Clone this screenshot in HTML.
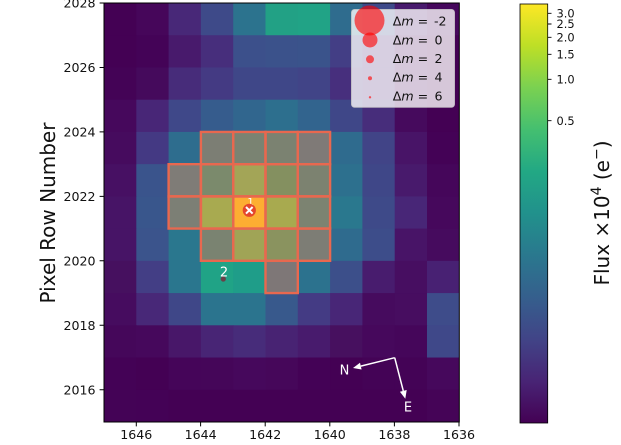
<!DOCTYPE html>
<html><head><meta charset="utf-8"><style>
html,body{margin:0;padding:0;background:#fff;}
svg{display:block;font-family:"DejaVu Sans","Liberation Sans",sans-serif;}
</style></head><body>
<svg width="621" height="445" viewBox="0 0 621 445" xmlns="http://www.w3.org/2000/svg">
<defs>
<linearGradient id="vir" x1="0" y1="1" x2="0" y2="0">
<stop offset="0" stop-color="#440154"/><stop offset="0.1" stop-color="#482475"/><stop offset="0.2" stop-color="#414487"/><stop offset="0.3" stop-color="#355f8d"/><stop offset="0.4" stop-color="#2a788e"/><stop offset="0.5" stop-color="#21918c"/><stop offset="0.6" stop-color="#22a884"/><stop offset="0.7" stop-color="#44bf70"/><stop offset="0.8" stop-color="#7ad151"/><stop offset="0.9" stop-color="#bddf26"/><stop offset="1" stop-color="#fde725"/>
</linearGradient>
<clipPath id="ax"><rect x="104" y="3" width="355.3" height="419"/></clipPath>
</defs>
<rect width="621" height="445" fill="#fff"/>
<g clip-path="url(#ax)">
<g transform="translate(104,3) scale(32.3,32.23)">
<!-- r0 -->
<rect x="0" y="0" width="1.02" height="1.02" fill="#440154"/><rect x="1" y="0" width="1.02" height="1.02" fill="#46065a"/><rect x="2" y="0" width="1.02" height="1.02" fill="#482878"/><rect x="3" y="0" width="1.02" height="1.02" fill="#3e4a89"/><rect x="4" y="0" width="1.02" height="1.02" fill="#2c738e"/><rect x="5" y="0" width="1.02" height="1.02" fill="#22a185"/><rect x="6" y="0" width="1.02" height="1.02" fill="#21a386"/><rect x="7" y="0" width="1.02" height="1.02" fill="#2f6c8e"/><rect x="8" y="0" width="1.02" height="1.02" fill="#3e4a89"/><rect x="9" y="0" width="1.02" height="1.02" fill="#481a6c"/><rect x="10" y="0" width="1.02" height="1.02" fill="#46085c"/>
<!-- r1 -->
<rect x="0" y="1" width="1.02" height="1.02" fill="#440154"/><rect x="1" y="1" width="1.02" height="1.02" fill="#440357"/><rect x="2" y="1" width="1.02" height="1.02" fill="#481a6c"/><rect x="3" y="1" width="1.02" height="1.02" fill="#472e7c"/><rect x="4" y="1" width="1.02" height="1.02" fill="#3c508b"/><rect x="5" y="1" width="1.02" height="1.02" fill="#3b528b"/><rect x="6" y="1" width="1.02" height="1.02" fill="#3a538b"/><rect x="7" y="1" width="1.02" height="1.02" fill="#433e85"/><rect x="8" y="1" width="1.02" height="1.02" fill="#482878"/><rect x="9" y="1" width="1.02" height="1.02" fill="#46085c"/><rect x="10" y="1" width="1.02" height="1.02" fill="#440154"/>
<!-- r2 -->
<rect x="0" y="2" width="1.02" height="1.02" fill="#440356"/><rect x="1" y="2" width="1.02" height="1.02" fill="#450a5c"/><rect x="2" y="2" width="1.02" height="1.02" fill="#472c7a"/><rect x="3" y="2" width="1.02" height="1.02" fill="#443a83"/><rect x="4" y="2" width="1.02" height="1.02" fill="#3f4788"/><rect x="5" y="2" width="1.02" height="1.02" fill="#3f4788"/><rect x="6" y="2" width="1.02" height="1.02" fill="#414487"/><rect x="7" y="2" width="1.02" height="1.02" fill="#472f7d"/><rect x="8" y="2" width="1.02" height="1.02" fill="#482475"/><rect x="9" y="2" width="1.02" height="1.02" fill="#46085c"/><rect x="10" y="2" width="1.02" height="1.02" fill="#440154"/>
<!-- r3 -->
<rect x="0" y="3" width="1.02" height="1.02" fill="#46085c"/><rect x="1" y="3" width="1.02" height="1.02" fill="#482677"/><rect x="2" y="3" width="1.02" height="1.02" fill="#3f4889"/><rect x="3" y="3" width="1.02" height="1.02" fill="#365c8d"/><rect x="4" y="3" width="1.02" height="1.02" fill="#31668e"/><rect x="5" y="3" width="1.02" height="1.02" fill="#2d6f8e"/><rect x="6" y="3" width="1.02" height="1.02" fill="#32648e"/><rect x="7" y="3" width="1.02" height="1.02" fill="#3f4788"/><rect x="8" y="3" width="1.02" height="1.02" fill="#472d7b"/><rect x="9" y="3" width="1.02" height="1.02" fill="#460a5d"/><rect x="10" y="3" width="1.02" height="1.02" fill="#440154"/>
<!-- r4 -->
<rect x="0" y="4" width="1.02" height="1.02" fill="#460b5e"/><rect x="1" y="4" width="1.02" height="1.02" fill="#443983"/><rect x="2" y="4" width="1.02" height="1.02" fill="#2e6d8e"/><rect x="3" y="4" width="1.02" height="1.02" fill="#7c7e74"/><rect x="4" y="4" width="1.02" height="1.02" fill="#7a8372"/><rect x="5" y="4" width="1.02" height="1.02" fill="#7b8271"/><rect x="6" y="4" width="1.02" height="1.02" fill="#7f7a77"/><rect x="7" y="4" width="1.02" height="1.02" fill="#2f6b8e"/><rect x="8" y="4" width="1.02" height="1.02" fill="#414487"/><rect x="9" y="4" width="1.02" height="1.02" fill="#481467"/><rect x="10" y="4" width="1.02" height="1.02" fill="#440256"/>
<!-- r5 -->
<rect x="0" y="5" width="1.02" height="1.02" fill="#471063"/><rect x="1" y="5" width="1.02" height="1.02" fill="#3a548c"/><rect x="2" y="5" width="1.02" height="1.02" fill="#7f7c77"/><rect x="3" y="5" width="1.02" height="1.02" fill="#7b8a6c"/><rect x="4" y="5" width="1.02" height="1.02" fill="#a3a557"/><rect x="5" y="5" width="1.02" height="1.02" fill="#849060"/><rect x="6" y="5" width="1.02" height="1.02" fill="#7c8270"/><rect x="7" y="5" width="1.02" height="1.02" fill="#2d708e"/><rect x="8" y="5" width="1.02" height="1.02" fill="#3f4788"/><rect x="9" y="5" width="1.02" height="1.02" fill="#481a6c"/><rect x="10" y="5" width="1.02" height="1.02" fill="#45065a"/>
<!-- r6 -->
<rect x="0" y="6" width="1.02" height="1.02" fill="#471466"/><rect x="1" y="6" width="1.02" height="1.02" fill="#39568c"/><rect x="2" y="6" width="1.02" height="1.02" fill="#7c7f75"/><rect x="3" y="6" width="1.02" height="1.02" fill="#a8aa50"/><rect x="4" y="6" width="1.02" height="1.02" fill="#fdae32"/><rect x="5" y="6" width="1.02" height="1.02" fill="#a8aa4f"/><rect x="6" y="6" width="1.02" height="1.02" fill="#7c8371"/><rect x="7" y="6" width="1.02" height="1.02" fill="#2a788e"/><rect x="8" y="6" width="1.02" height="1.02" fill="#3e4a89"/><rect x="9" y="6" width="1.02" height="1.02" fill="#482677"/><rect x="10" y="6" width="1.02" height="1.02" fill="#46085c"/>
<!-- r7 -->
<rect x="0" y="7" width="1.02" height="1.02" fill="#471466"/><rect x="1" y="7" width="1.02" height="1.02" fill="#3b548c"/><rect x="2" y="7" width="1.02" height="1.02" fill="#2a778e"/><rect x="3" y="7" width="1.02" height="1.02" fill="#7a8371"/><rect x="4" y="7" width="1.02" height="1.02" fill="#a0a456"/><rect x="5" y="7" width="1.02" height="1.02" fill="#8a935f"/><rect x="6" y="7" width="1.02" height="1.02" fill="#7d7d75"/><rect x="7" y="7" width="1.02" height="1.02" fill="#2f6b8e"/><rect x="8" y="7" width="1.02" height="1.02" fill="#3d4d8a"/><rect x="9" y="7" width="1.02" height="1.02" fill="#481467"/><rect x="10" y="7" width="1.02" height="1.02" fill="#460b5e"/>
<!-- r8 -->
<rect x="0" y="8" width="1.02" height="1.02" fill="#46105f"/><rect x="1" y="8" width="1.02" height="1.02" fill="#433e85"/><rect x="2" y="8" width="1.02" height="1.02" fill="#2a768e"/><rect x="3" y="8" width="1.02" height="1.02" fill="#20a386"/><rect x="4" y="8" width="1.02" height="1.02" fill="#1f9d89"/><rect x="5" y="8" width="1.02" height="1.02" fill="#7e7777"/><rect x="6" y="8" width="1.02" height="1.02" fill="#2c728e"/><rect x="7" y="8" width="1.02" height="1.02" fill="#3c4f8a"/><rect x="8" y="8" width="1.02" height="1.02" fill="#481c6e"/><rect x="9" y="8" width="1.02" height="1.02" fill="#470e61"/><rect x="10" y="8" width="1.02" height="1.02" fill="#482173"/>
<!-- r9 -->
<rect x="0" y="9" width="1.02" height="1.02" fill="#460c5f"/><rect x="1" y="9" width="1.02" height="1.02" fill="#482878"/><rect x="2" y="9" width="1.02" height="1.02" fill="#3f4788"/><rect x="3" y="9" width="1.02" height="1.02" fill="#2b748e"/><rect x="4" y="9" width="1.02" height="1.02" fill="#2b748e"/><rect x="5" y="9" width="1.02" height="1.02" fill="#38598c"/><rect x="6" y="9" width="1.02" height="1.02" fill="#443b84"/><rect x="7" y="9" width="1.02" height="1.02" fill="#482677"/><rect x="8" y="9" width="1.02" height="1.02" fill="#460b5e"/><rect x="9" y="9" width="1.02" height="1.02" fill="#470d60"/><rect x="10" y="9" width="1.02" height="1.02" fill="#3e4c8a"/>
<!-- r10 -->
<rect x="0" y="10" width="1.02" height="1.02" fill="#45075a"/><rect x="1" y="10" width="1.02" height="1.02" fill="#46085c"/><rect x="2" y="10" width="1.02" height="1.02" fill="#481769"/><rect x="3" y="10" width="1.02" height="1.02" fill="#482575"/><rect x="4" y="10" width="1.02" height="1.02" fill="#472c7a"/><rect x="5" y="10" width="1.02" height="1.02" fill="#482373"/><rect x="6" y="10" width="1.02" height="1.02" fill="#481b6d"/><rect x="7" y="10" width="1.02" height="1.02" fill="#47105f"/><rect x="8" y="10" width="1.02" height="1.02" fill="#46085c"/><rect x="9" y="10" width="1.02" height="1.02" fill="#45065a"/><rect x="10" y="10" width="1.02" height="1.02" fill="#3f4889"/>
<!-- r11 -->
<rect x="0" y="11" width="1.02" height="1.02" fill="#440256"/><rect x="1" y="11" width="1.02" height="1.02" fill="#440154"/><rect x="2" y="11" width="1.02" height="1.02" fill="#450559"/><rect x="3" y="11" width="1.02" height="1.02" fill="#450659"/><rect x="4" y="11" width="1.02" height="1.02" fill="#46085c"/><rect x="5" y="11" width="1.02" height="1.02" fill="#46075a"/><rect x="6" y="11" width="1.02" height="1.02" fill="#440256"/><rect x="7" y="11" width="1.02" height="1.02" fill="#440154"/><rect x="8" y="11" width="1.02" height="1.02" fill="#440356"/><rect x="9" y="11" width="1.02" height="1.02" fill="#440356"/><rect x="10" y="11" width="1.02" height="1.02" fill="#46085c"/>
<!-- r12 -->
<rect x="0" y="12" width="1.02" height="1.02" fill="#440356"/><rect x="1" y="12" width="1.02" height="1.02" fill="#440256"/><rect x="2" y="12" width="9.02" height="1.02" fill="#440154"/><rect x="10" y="12" width="1.02" height="1.02" fill="#450457"/>
<!-- aperture mask outlines -->
<g fill="none" stroke="#e8684f" stroke-width="2.4">
<rect x="3" y="4" width="1" height="1" vector-effect="non-scaling-stroke"/><rect x="4" y="4" width="1" height="1" vector-effect="non-scaling-stroke"/><rect x="5" y="4" width="1" height="1" vector-effect="non-scaling-stroke"/><rect x="6" y="4" width="1" height="1" vector-effect="non-scaling-stroke"/>
<rect x="2" y="5" width="1" height="1" vector-effect="non-scaling-stroke"/><rect x="3" y="5" width="1" height="1" vector-effect="non-scaling-stroke"/><rect x="4" y="5" width="1" height="1" vector-effect="non-scaling-stroke"/><rect x="5" y="5" width="1" height="1" vector-effect="non-scaling-stroke"/><rect x="6" y="5" width="1" height="1" vector-effect="non-scaling-stroke"/>
<rect x="2" y="6" width="1" height="1" vector-effect="non-scaling-stroke"/><rect x="3" y="6" width="1" height="1" vector-effect="non-scaling-stroke"/><rect x="4" y="6" width="1" height="1" vector-effect="non-scaling-stroke"/><rect x="5" y="6" width="1" height="1" vector-effect="non-scaling-stroke"/><rect x="6" y="6" width="1" height="1" vector-effect="non-scaling-stroke"/>
<rect x="3" y="7" width="1" height="1" vector-effect="non-scaling-stroke"/><rect x="4" y="7" width="1" height="1" vector-effect="non-scaling-stroke"/><rect x="5" y="7" width="1" height="1" vector-effect="non-scaling-stroke"/><rect x="6" y="7" width="1" height="1" vector-effect="non-scaling-stroke"/>
<rect x="5" y="8" width="1" height="1" vector-effect="non-scaling-stroke"/>
</g>
</g>
<!-- star 2 -->
<circle cx="223.3" cy="279" r="2.6" fill="#6a4048"/>
<text x="224" y="276.5" font-size="13" fill="#fff" text-anchor="middle">2</text>
<!-- star 1 -->
<text x="250.5" y="205" font-size="10" fill="#fff" text-anchor="middle">1</text>
<circle cx="249.3" cy="210.3" r="6.6" fill="#e4462c"/>
<path d="M246,207 L252.6,213.6 M252.6,207 L246,213.6" stroke="#fff" stroke-width="2" fill="none"/>
<!-- compass -->
<g stroke="#fff" stroke-width="1.5" fill="none">
<path d="M394.7,357.7 L360.8,366.1"/>
<path d="M394.7,357.7 L403.3,390.9"/>
</g>
<polygon points="353,368 361.6,369.5 360,362.7" fill="#fff"/>
<polygon points="405.3,398.7 406.7,390 399.9,391.8" fill="#fff"/>
<text x="344.5" y="374.5" font-size="13" fill="#fff" text-anchor="middle">N</text>
<text x="408" y="411.5" font-size="13" fill="#fff" text-anchor="middle">E</text>
<!-- legend -->
<rect x="351.5" y="9.5" width="103" height="97.8" rx="3" ry="3" fill="#fff" fill-opacity="0.78" stroke="#cccccc" stroke-opacity="0.8" stroke-width="1"/>
<g fill="#ff0000" fill-opacity="0.62">
<circle cx="369.5" cy="20.5" r="15"/>
<circle cx="370" cy="40" r="7.5"/>
<circle cx="370" cy="59.3" r="4"/>
<circle cx="370" cy="78.3" r="2"/>
<circle cx="370" cy="97.3" r="1.2"/>
</g>
<g font-size="12.6" fill="#111">
<text x="392.7" y="25.3">Δ<tspan font-style="italic">m</tspan> =</text><text x="434" y="25.3">-2</text>
<text x="392.7" y="44.6">Δ<tspan font-style="italic">m</tspan> =</text><text x="434.5" y="44.6">0</text>
<text x="392.7" y="62.9">Δ<tspan font-style="italic">m</tspan> =</text><text x="434.5" y="62.9">2</text>
<text x="392.7" y="81.3">Δ<tspan font-style="italic">m</tspan> =</text><text x="434.5" y="81.3">4</text>
<text x="392.7" y="100.3">Δ<tspan font-style="italic">m</tspan> =</text><text x="434.5" y="100.3">6</text>
</g>
</g>
<!-- axes frame -->
<rect x="104" y="3" width="355.3" height="419" fill="none" stroke="#000" stroke-width="1"/>
<!-- ticks -->
<g stroke="#000" stroke-width="1">
<path d="M136.3,422V426.4 M200.6,422V426.4 M265.2,422V426.4 M329.8,422V426.4 M394.4,422V426.4 M459,422V426.4"/>
<path d="M99.6,3H104 M99.6,67.5H104 M99.6,131.9H104 M99.6,196.4H104 M99.6,260.8H104 M99.6,325.3H104 M99.6,389.8H104"/>
</g>
<g font-size="12.6" fill="#111" text-anchor="middle">
<text x="136.3" y="439">1646</text><text x="200.6" y="439">1644</text><text x="265.2" y="439">1642</text><text x="329.8" y="439">1640</text><text x="394.4" y="439">1638</text><text x="459" y="439">1636</text>
</g>
<g font-size="12.6" fill="#111" text-anchor="end">
<text x="95.5" y="7.6">2028</text><text x="95.5" y="72.1">2026</text><text x="95.5" y="136.5">2024</text><text x="95.5" y="201">2022</text><text x="95.5" y="265.4">2020</text><text x="95.5" y="329.9">2018</text><text x="95.5" y="394.4">2016</text>
</g>
<text transform="translate(55,213) rotate(-90)" font-size="20" fill="#111" text-anchor="middle">Pixel Row Number</text>
<!-- colorbar -->
<rect x="520" y="4" width="27.7" height="419" fill="url(#vir)" stroke="#000" stroke-width="0.8"/>
<g stroke="#000" stroke-width="0.9">
<path d="M547.7,13.3H551.5 M547.7,24H551.5 M547.7,37.3H551.5 M547.7,54.3H551.5 M547.7,79.3H551.5 M547.7,120.7H551.5"/>
</g>
<g font-size="11.4" fill="#111">
<text x="556.5" y="17.5">3.0</text><text x="556.5" y="28.2">2.5</text><text x="556.5" y="41.5">2.0</text><text x="556.5" y="58.5">1.5</text><text x="556.5" y="83.5">1.0</text><text x="556.5" y="124.9">0.5</text>
</g>
<text transform="translate(609,213) rotate(-90)" font-size="20" fill="#111" text-anchor="middle">Flux ×10<tspan dy="-8" font-size="14">4</tspan><tspan dy="8"> (e</tspan><tspan dy="-8" font-size="14">−</tspan><tspan dy="8">)</tspan></text>
</svg>
</body></html>
